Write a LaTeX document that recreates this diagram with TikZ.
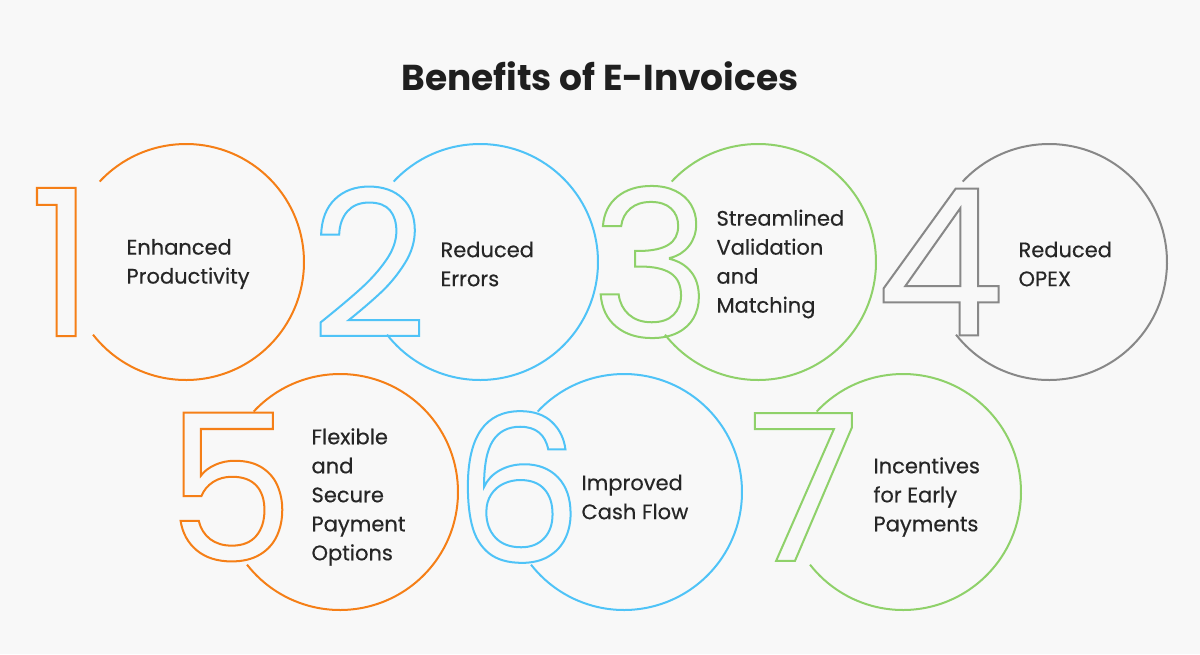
\documentclass[tikz,border=0pt]{standalone}
\usepackage{fontspec}
\setmainfont{Poppins}
\usetikzlibrary{positioning}
\definecolor{bgcol}{HTML}{F8F8F8}
\definecolor{orangecol}{HTML}{F57F17}
\definecolor{bluecol}{HTML}{4FC3F7}
\definecolor{greencol}{HTML}{8FD16A}
\definecolor{greycol}{HTML}{888888}
\newcommand\hollow[1]{\special{pdf:literal direct 1 Tr 2 w}#1}

\begin{document}
\begin{tikzpicture}[x=1pt, y=-1pt,
  ring/.style={circle, minimum size=236pt, inner sep=0pt},
  digit/.style={text=#1, font=\fontsize{205}{205}\selectfont, inner sep=0pt},
  label/.style={font=\fontsize{21}{29}\selectfont\addfontfeature{FakeBold=0.4}, text=black!85, align=left, anchor=west}]
\fill[bgcol] (0,0) rectangle (1200,654);
\node (title) at (600,76) {\fontsize{36}{40}\selectfont\bfseries\color{black!88}Benefits of E-Invoices};

% circles, open on the left where the digit sits
\foreach \n/\x/\y/\c in {1/186/262/orangecol, 2/480/262/bluecol, 3/758/262/greencol, 4/1049/262/greycol,
  5/340/492/orangecol, 6/624/492/bluecol, 7/903/492/greencol} {
  \node (c\n) [ring] at (\x,\y) {};
  \draw[\c, line width=2pt] (c\n.center) ++(-137:118) arc[start angle=-137, end angle=142, radius=118];
}

\node (t1) [label] at (123,264) {Enhanced\\Productivity};
\node (t2) [label] at (437,264) {Reduced\\Errors};
\node (t3) [label] at (713,264) {Streamlined\\Validation\\and\\Matching};
\node (t4) [label] at (1015,264) {Reduced\\OPEX};
\node (t5) [label] at (308,497) {Flexible\\and\\Secure\\Payment\\Options};
\node (t6) [label] at (578,497) {Improved\\Cash Flow};
\node (t7) [label] at (870,497) {Incentives\\for Early\\Payments};

% outlined digits
\foreach \n/\x/\y/\c in {1/62/262/orangecol, 2/369/262/bluecol, 3/651/262/greencol, 4/940/262/greycol,
  5/230/487/orangecol, 6/518/487/bluecol, 7/804/487/greencol}
  \node (d\n) [digit=\c] at (\x,\y) {\hollow{\n}};
\end{tikzpicture}
\end{document}
